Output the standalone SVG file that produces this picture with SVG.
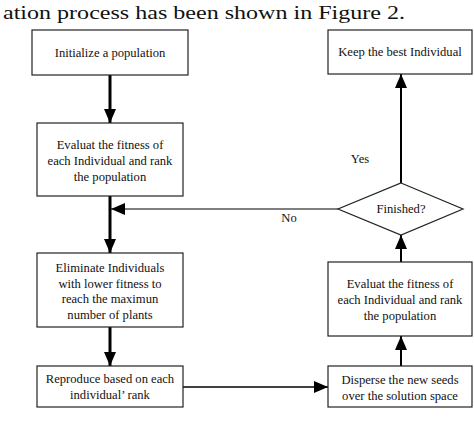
<svg xmlns="http://www.w3.org/2000/svg" width="474" height="440" viewBox="0 0 474 440">
<style>
.box{fill:#fff;stroke:#222;stroke-width:1.2}
.t{font-family:"Liberation Serif","Times New Roman",serif;font-size:12.6px;fill:#111;text-anchor:middle}
.c{fill:none;stroke:#000}
</style>
<defs>
<marker id="ah" markerUnits="userSpaceOnUse" markerWidth="14" markerHeight="12" refX="14" refY="6" orient="auto">
<path d="M0,0 L14,6 L0,12 Z" fill="#000"/>
</marker>
</defs>
<rect width="474" height="440" fill="#fff"/>
<text x="3" y="19" textLength="402" lengthAdjust="spacingAndGlyphs" style="font-family:'Liberation Serif',serif;font-size:19px;fill:#111">ation process has been shown in Figure 2.</text>
<g id="connectors">
<line class="c" x1="110" y1="75" x2="110" y2="123" stroke-width="3" marker-end="url(#ah)"/>
<line class="c" x1="110" y1="196" x2="110" y2="253" stroke-width="3" marker-end="url(#ah)"/>
<line class="c" x1="110" y1="327" x2="110" y2="366" stroke-width="3" marker-end="url(#ah)"/>
<line class="c" x1="183" y1="387" x2="328" y2="387" stroke-width="1.6" marker-end="url(#ah)"/>
<line class="c" x1="401" y1="366" x2="401" y2="336" stroke-width="2" marker-end="url(#ah)"/>
<line class="c" x1="401" y1="262" x2="401" y2="235" stroke-width="2" marker-end="url(#ah)"/>
<line class="c" x1="401" y1="183" x2="401" y2="74" stroke-width="2" marker-end="url(#ah)"/>
<line class="c" x1="338" y1="209" x2="111" y2="209" stroke-width="1.2" marker-end="url(#ah)"/>
<text class="t" x="360" y="163">Yes</text>
<text class="t" x="289" y="222">No</text>
</g>
<g id="n1"><rect class="box" x="32" y="30" width="156" height="45"/><text class="t" x="110" y="57">Initialize a population</text></g>
<g id="n2"><rect class="box" x="37" y="123" width="146" height="73"/>
<text class="t" x="110" y="149">Evaluat the fitness of</text>
<text class="t" x="110" y="165">each Individual and rank</text>
<text class="t" x="110" y="181">the population</text></g>
<g id="n3"><rect class="box" x="37" y="253" width="146" height="74"/>
<text class="t" x="110" y="272">Eliminate Individuals</text>
<text class="t" x="110" y="288">with lower fitness to</text>
<text class="t" x="110" y="303">reach the maximun</text>
<text class="t" x="110" y="319">number of plants</text></g>
<g id="n4"><rect class="box" x="37" y="366" width="146" height="41"/>
<text class="t" x="110" y="383">Reproduce based on each</text>
<text class="t" x="110" y="399">individual’ rank</text></g>
<g id="n5"><rect class="box" x="328" y="366" width="144" height="41"/>
<text class="t" x="400" y="384">Disperse the new seeds</text>
<text class="t" x="400" y="400">over the solution space</text></g>
<g id="n6"><rect class="box" x="328" y="262" width="144" height="74"/>
<text class="t" x="400" y="288">Evaluat the fitness of</text>
<text class="t" x="400" y="304">each Individual and rank</text>
<text class="t" x="400" y="320">the population</text></g>
<g id="n7"><polygon class="box" points="401,183 463,209 401,235 338,209"/>
<text class="t" x="401" y="213">Finished?</text></g>
<g id="n8"><rect class="box" x="328" y="30" width="144" height="44"/>
<text class="t" x="400" y="56">Keep the best Individual</text></g>
</svg>
